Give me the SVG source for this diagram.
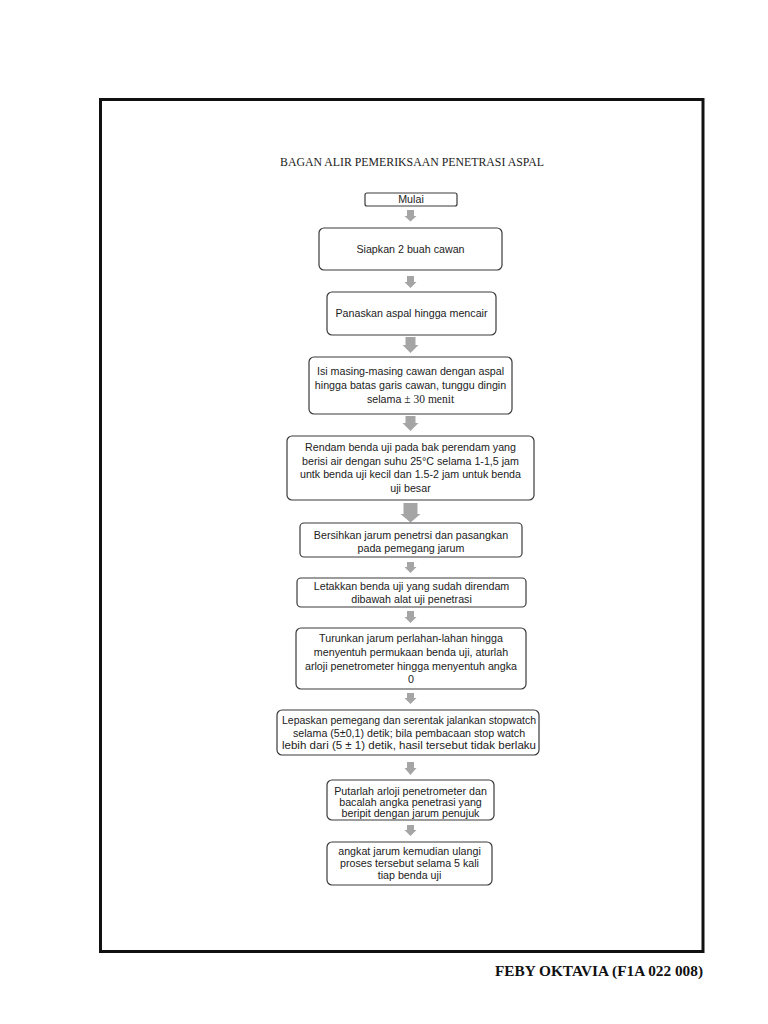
<svg xmlns="http://www.w3.org/2000/svg" width="768" height="1024" viewBox="0 0 768 1024">
<style>
.box{fill:#fff;stroke:#3a3a3a;stroke-width:1.2}
.t{font-family:"Liberation Sans",Arial,sans-serif;font-size:10.7px;fill:#222;text-anchor:middle}
.ser{font-family:"Liberation Serif","Times New Roman",serif}
.arr{fill:#a5a5a5}
</style>
<rect width="768" height="1024" fill="#fff"/>
<rect id="frame" x="100.5" y="99.5" width="602.5" height="852" fill="none" stroke="#111" stroke-width="3"/>
<text id="title" x="412" y="166" class="ser" font-size="11.7" fill="#222" text-anchor="middle" textLength="264" lengthAdjust="spacingAndGlyphs">BAGAN ALIR PEMERIKSAAN PENETRASI ASPAL</text>

<g id="connectors">
<path class="arr" d="M407 210h7v6h2.5l-6 5.5l-6-5.5h2.5z"/>
<path class="arr" d="M407 276h7v6h2.5l-6 6l-6-6h2.5z"/>
<path class="arr" d="M405.5 337h10v8h3l-8 8l-8-8h3z"/>
<path class="arr" d="M405.5 416h10v7h3l-8 8l-8-8h3z"/>
<path class="arr" d="M403.5 503h14v11h3l-10 8.5l-10-8.5h3z"/>
<path class="arr" d="M407 562h7v5h2.5l-6 6l-6-6h2.5z"/>
<path class="arr" d="M407 611h7v6h2.5l-6 6l-6-6h2.5z"/>
<path class="arr" d="M407 693h7v5h2.5l-6 6l-6-6h2.5z"/>
<path class="arr" d="M407 762h7v6h2.5l-6 7l-6-7h2.5z"/>
<path class="arr" d="M407 825h7v5h2.5l-6 6l-6-6h2.5z"/>
</g>

<g id="n1">
<rect class="box" x="365" y="193" width="92" height="13" rx="2"/>
<text class="t" x="411" y="203">Mulai</text>
</g>
<g id="n2">
<rect class="box" x="319" y="228" width="183" height="42" rx="5"/>
<text class="t" x="410.5" y="253">Siapkan 2 buah cawan</text>
</g>
<g id="n3">
<rect class="box" x="327" y="292" width="169" height="43" rx="5"/>
<text class="t" x="411.5" y="317">Panaskan aspal hingga mencair</text>
</g>
<g id="n4">
<rect class="box" x="309" y="357" width="203" height="57" rx="5"/>
<text class="t" x="410.5" y="375">Isi masing-masing cawan dengan aspal</text>
<text class="t" x="410.5" y="389">hingga batas garis cawan, tunggu dingin</text>
<text class="t" x="410.5" y="403">selama <tspan class="ser" font-size="11.5">± 30 menit</tspan></text>
</g>
<g id="n5">
<rect class="box" x="287" y="436" width="247" height="64" rx="5"/>
<text class="t" x="410.5" y="451">Rendam benda uji pada bak perendam yang</text>
<text class="t" x="410.5" y="465">berisi air dengan suhu 25°C selama 1-1,5 jam</text>
<text class="t" x="410.5" y="478">untk benda uji kecil dan 1.5-2 jam untuk benda</text>
<text class="t" x="410.5" y="492">uji besar</text>
</g>
<g id="n6">
<rect class="box" x="300" y="523" width="222" height="34" rx="4"/>
<text class="t" x="411" y="539">Bersihkan jarum penetrsi dan pasangkan</text>
<text class="t" x="411" y="552">pada pemegang jarum</text>
</g>
<g id="n7">
<rect class="box" x="297" y="578" width="229" height="29" rx="4"/>
<text class="t" x="411.5" y="590">Letakkan benda uji yang sudah direndam</text>
<text class="t" x="411.5" y="603">dibawah alat uji penetrasi</text>
</g>
<g id="n8">
<rect class="box" x="296" y="628" width="230" height="61" rx="5"/>
<text class="t" x="411" y="642">Turunkan jarum perlahan-lahan hingga</text>
<text class="t" x="411" y="656">menyentuh permukaan benda uji, aturlah</text>
<text class="t" x="411" y="670">arloji penetrometer hingga menyentuh angka</text>
<text class="t" x="411" y="683">0</text>
</g>
<g id="n9">
<rect class="box" x="277" y="710" width="262" height="45" rx="5"/>
<text class="t" x="409" y="724" textLength="254" lengthAdjust="spacingAndGlyphs">Lepaskan pemegang dan serentak jalankan stopwatch</text>
<text class="t" x="409" y="737">selama (5±0,1) detik; bila pembacaan stop watch</text>
<text class="t" x="409" y="749" textLength="254" lengthAdjust="spacingAndGlyphs">lebih dari (5 ± 1) detik, hasil tersebut tidak berlaku</text>
</g>
<g id="n10">
<rect class="box" x="327" y="780" width="167" height="40" rx="5"/>
<text class="t" x="410.5" y="795">Putarlah arloji penetrometer dan</text>
<text class="t" x="410.5" y="806">bacalah angka penetrasi yang</text>
<text class="t" x="410.5" y="817">beripit dengan jarum penujuk</text>
</g>
<g id="n11">
<rect class="box" x="327" y="842" width="165" height="43" rx="5"/>
<text class="t" x="409.5" y="855">angkat jarum kemudian ulangi</text>
<text class="t" x="409.5" y="867">proses tersebut selama 5 kali</text>
<text class="t" x="409.5" y="879">tiap benda uji</text>
</g>

<text id="footer" x="599" y="976" class="ser" font-size="15" font-weight="bold" fill="#111" text-anchor="middle" textLength="208" lengthAdjust="spacingAndGlyphs">FEBY OKTAVIA (F1A 022 008)</text>
</svg>
